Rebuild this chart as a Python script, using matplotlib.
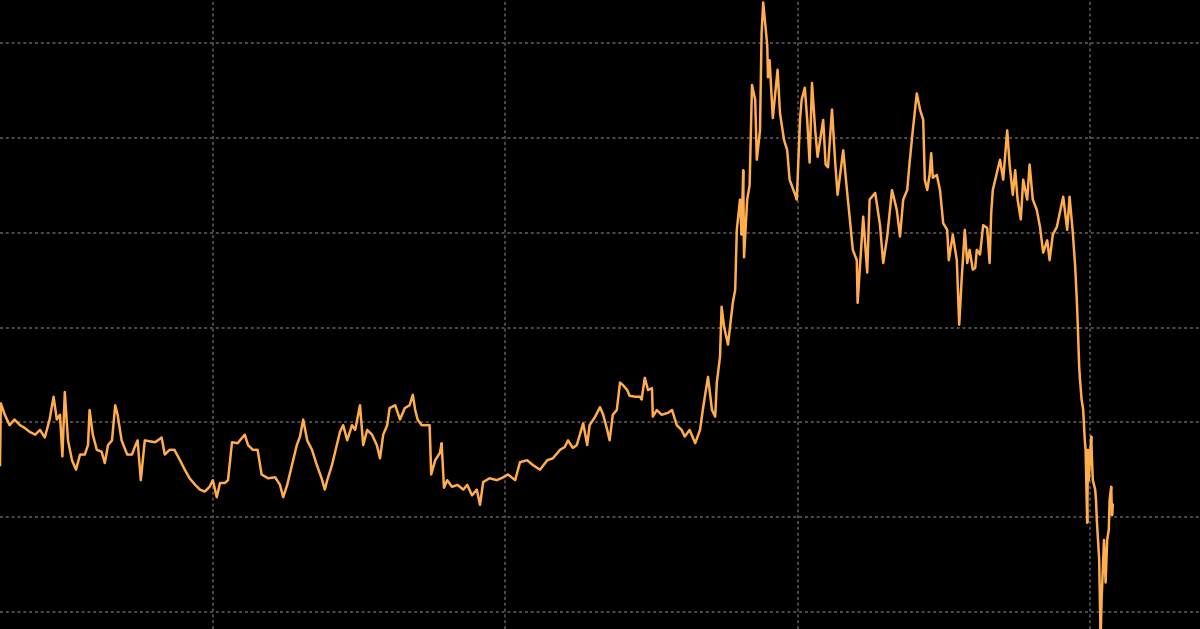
import numpy as np
import matplotlib
matplotlib.use("Agg")
import matplotlib.pyplot as plt
import matplotlib.dates as mdates

### DATA ######################################################################

# days counted from 2015-01-01
start_date = np.datetime64("2015-01-01")

days = [
    -266, -265, -260, -254, -248, -241, -235, -229, -222, -216, -210, -204, -199,
    -195, -191, -188, -185, -181, -176, -171, -166, -160, -156, -154, -150, -145,
    -139, -135, -131, -126, -122, -119, -114, -107, -101, -98, -94, -90, -85, -79,
    -72, -64, -60, -54, -48, -41, -35, -29, -22, -16, -10, -4, 0, 5, 9, 15, 19,
    24, 31, 40, 44, 50, 56, 61, 69, 78, 84, 88, 93, 99, 105, 109, 113, 118, 124,
    130, 136, 140, 143, 149, 155, 159, 163, 168, 174, 178, 184, 188, 193, 199,
    205, 209, 213, 218, 221, 228, 234, 240, 246, 250, 253, 256, 261, 271, 273,
    278, 284, 286, 289, 293, 299, 306, 313, 318, 324, 330, 334, 338, 346, 355,
    363, 369, 378, 384, 393, 400, 409, 418, 425, 434, 440, 444, 450, 455, 463,
    468, 471, 478, 484, 488, 493, 496, 500, 505, 509, 513, 518, 521, 528, 534,
    536, 540, 544, 549, 550, 555, 561, 569, 574, 580, 586, 590, 596, 603, 609,
    613, 619, 624, 628, 630, 634, 636, 639, 644, 646, 650, 653, 655, 659, 661,
    663, 664, 668, 671, 674, 678, 680, 684, 686, 688, 693, 694, 696, 700, 706,
    709, 714, 718, 721, 728, 730, 734, 736, 740, 743, 746, 749, 753, 756, 763,
    766, 769, 774, 778, 781, 788, 793, 796, 800, 805, 806, 813, 818, 821, 828,
    834, 838, 843, 849, 855, 859, 863, 868, 871, 875, 880, 884, 888, 890, 893,
    896, 898, 900, 905, 909, 913, 918, 920, 925, 930, 933, 936, 940, 943, 946,
    950, 953, 955, 959, 963, 968, 971, 973, 975, 980, 984, 988, 993, 996, 1000,
    1003, 1006, 1010, 1013, 1018, 1021, 1025, 1030, 1034, 1038, 1043, 1046,
    1050, 1055, 1063, 1068, 1071, 1075, 1078, 1080, 1081, 1083, 1084, 1086,
    1088, 1090, 1091, 1093, 1094, 1095, 1096, 1098, 1099, 1100, 1103, 1104,
    1105, 1108, 1109, 1110, 1111, 1113, 1114, 1116, 1118, 1120, 1121, 1123,
    1124, 1125,
]

prices = [
    35.5, 42.0, 40.8, 39.7, 40.3, 39.7, 39.4, 39.0, 38.7, 39.2, 38.4, 40.3, 42.7,
    40.3, 40.8, 36.4, 43.2, 38.1, 36.0, 35.0, 36.6, 36.6, 37.6, 41.3, 38.7, 37.1,
    36.9, 35.7, 37.6, 38.1, 41.8, 40.8, 38.1, 36.6, 36.6, 37.3, 38.1, 33.9, 38.1,
    38.0, 37.9, 38.4, 36.6, 37.1, 37.1, 36.0, 35.0, 34.1, 33.4, 32.9, 32.7, 33.2,
    33.9, 32.1, 33.6, 33.6, 33.9, 37.9, 37.8, 38.7, 37.6, 37.1, 37.1, 34.5, 34.1,
    34.2, 33.4, 32.1, 33.4, 35.5, 37.6, 38.5, 40.3, 38.1, 37.1, 35.5, 34.1, 32.9,
    33.9, 35.5, 37.6, 39.0, 39.7, 38.1, 39.7, 39.2, 41.8, 37.6, 39.2, 38.7, 37.6,
    36.2, 38.7, 39.7, 41.5, 41.8, 40.3, 41.5, 41.8, 42.9, 41.3, 40.3, 39.7, 39.7,
    34.5, 36.0, 36.8, 37.8, 33.1, 33.9, 33.2, 33.4, 32.9, 33.4, 32.3, 32.9, 31.3,
    33.7, 34.1, 33.9, 34.2, 34.5, 33.9, 35.8, 36.0, 35.5, 35.0, 36.0, 36.2, 37.1,
    37.4, 38.1, 37.3, 37.6, 39.9, 37.6, 39.7, 40.6, 41.6, 40.8, 39.2, 38.1, 40.8,
    41.3, 44.2, 43.9, 43.4, 42.8, 42.7, 42.7, 42.4, 44.7, 43.4, 43.6, 40.6, 41.3,
    40.8, 41.0, 41.3, 39.7, 39.2, 38.5, 39.2, 37.8, 39.2, 41.6, 44.8, 41.3, 40.6,
    44.2, 46.9, 52.2, 50.1, 48.2, 49.7, 52.6, 54.0, 60.3, 63.5, 59.8, 66.6, 57.4,
    63.5, 65.0, 75.6, 74.0, 67.7, 70.8, 81.1, 84.3, 79.8, 76.4, 78.2, 72.1, 77.2,
    72.6, 69.8, 68.7, 65.6, 64.0, 63.5, 71.9, 74.0, 75.3, 71.9, 67.4, 75.8, 70.8,
    68.0, 71.9, 67.2, 66.9, 73.0, 67.4, 64.0, 68.7, 64.2, 61.7, 58.2, 57.1, 52.6,
    61.7, 55.8, 63.5, 64.2, 60.8, 56.8, 59.6, 64.5, 62.4, 59.6, 63.5, 64.5, 67.4,
    70.8, 74.7, 73.0, 71.9, 65.6, 64.5, 66.1, 68.4, 65.8, 66.1, 64.5, 61.0, 60.3,
    57.1, 59.8, 57.1, 50.3, 55.0, 60.3, 56.8, 58.2, 56.1, 56.3, 58.2, 57.7, 60.8,
    60.5, 56.8, 62.1, 64.5, 66.3, 67.7, 65.6, 70.8, 67.2, 64.0, 66.6, 63.5, 61.4,
    65.6, 63.5, 67.2, 63.5, 62.4, 60.6, 57.9, 59.2, 57.1, 59.8, 60.6, 63.8, 60.3,
    63.8, 60.0, 56.4, 52.9, 50.8, 45.8, 44.5, 42.4, 41.3, 38.1, 37.1, 29.4, 37.1,
    33.9, 35.5, 38.5, 36.0, 33.9, 32.9, 31.8, 29.7, 25.5, 20.5, 17.9, 21.3, 25.5,
    27.6, 23.1, 27.6, 28.7, 31.8, 33.2, 30.2, 31.3,
]

y_grid = [20, 30, 40, 50, 60, 70, 80]

### PLOT ######################################################################

dates = start_date + np.array(days).astype("timedelta64[D]")

fig = plt.figure(figsize=(12, 6.29), dpi=100)
fig.patch.set_facecolor("black")
ax = fig.add_axes([0, 0, 1, 1])
ax.set_facecolor("black")

ax.plot(dates, prices, color="#ffad4d", lw=1.8)

# limits so the yearly grid lines land where they do in the reference
ax.set_xlim(start_date - np.timedelta64(266, "D"), start_date + np.timedelta64(1234, "D"))
ax.set_ylim(18.2, 84.55)

ax.xaxis.set_major_locator(mdates.YearLocator())
ax.set_yticks(y_grid)
ax.grid(True, color="#4d4d4d", lw=1.4, linestyle=(0, (1.5, 1.5)))
ax.set_axisbelow(True)

ax.tick_params(length=0, labelbottom=False, labelleft=False)
for s in ax.spines.values():
    s.set_visible(False)

fig.savefig("out.png", dpi=100, facecolor="black")
